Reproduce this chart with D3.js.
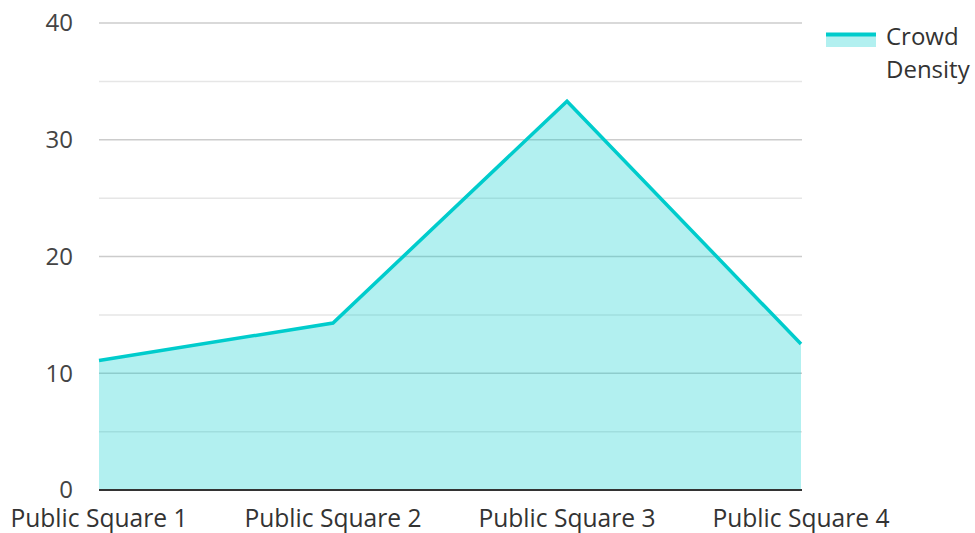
<!DOCTYPE html>
<html><head><meta charset="utf-8">
<script src="https://cdn.jsdelivr.net/npm/d3@7"></script>
<style>body{margin:0;background:#fff}svg{display:block;font-family:"Open Sans",sans-serif}</style>
</head><body><svg id="c" width="975" height="533"></svg>
<script>
const categories = ["Public Square 1","Public Square 2","Public Square 3","Public Square 4"];
const values = [11.1, 14.3, 33.3, 12.5];
const seriesName = ["Crowd", "Density"];
const majorTicks = [0,10,20,30,40];
const minorTicks = [5,15,25,35];

(function(){
const svg = d3.select("#c");
const pl = 99, pr = 801, pt = 23, pb = 490;
const x = d3.scalePoint().domain(categories).range([pl, pr]);
const y = d3.scaleLinear().domain([0,40]).range([pb, pt]);

svg.append("g").selectAll("line").data(minorTicks).join("line")
  .attr("x1", pl).attr("x2", pr+1).attr("y1", d=>y(d)).attr("y2", d=>y(d))
  .attr("stroke", "#e6e6e6").attr("stroke-width", 1.5);
svg.append("g").selectAll("line").data(majorTicks.filter(d=>d>0)).join("line")
  .attr("x1", pl).attr("x2", pr+1).attr("y1", d=>y(d)).attr("y2", d=>y(d))
  .attr("stroke", "#cccccc").attr("stroke-width", 1.5);

const data = categories.map((c,i)=>({c, v: values[i]}));
svg.append("path").datum(data)
  .attr("d", d3.area().x(d=>x(d.c)).y0(y(0)).y1(d=>y(d.v)))
  .attr("fill", "rgb(0,204,204)").attr("fill-opacity", 0.3);
svg.append("path").datum(data)
  .attr("d", d3.line().x(d=>x(d.c)).y(d=>y(d.v)))
  .attr("fill", "none").attr("stroke", "#00cccc").attr("stroke-width", 3.5).attr("stroke-linejoin","miter");

svg.append("line").attr("x1", pl).attr("x2", pr+1).attr("y1", y(0)).attr("y2", y(0))
  .attr("stroke", "#333").attr("stroke-width", 2);

svg.append("g").selectAll("text").data(majorTicks).join("text")
  .attr("x", 73).attr("y", d=>y(d)).attr("dy", "0.35em").attr("text-anchor","end")
  .attr("font-size", 24).attr("fill", "#444").text(d=>d);

svg.append("g").selectAll("text").data(categories).join("text")
  .attr("x", d=>x(d)).attr("y", 527).attr("text-anchor","middle")
  .attr("font-size", 24.6).attr("fill", "#333").text(d=>d);

const lg = svg.append("g");
lg.append("rect").attr("x", 826).attr("y", 34).attr("width", 50).attr("height", 13)
  .attr("fill", "rgb(0,204,204)").attr("fill-opacity", 0.3);
lg.append("line").attr("x1", 826).attr("x2", 876).attr("y1", 34.5).attr("y2", 34.5)
  .attr("stroke", "#00cccc").attr("stroke-width", 4);
lg.selectAll("text").data(seriesName).join("text")
  .attr("x", 886).attr("y", (d,i)=>45+i*33).attr("font-size", 24).attr("fill", "#333").text(d=>d);
})();
</script></body></html>
